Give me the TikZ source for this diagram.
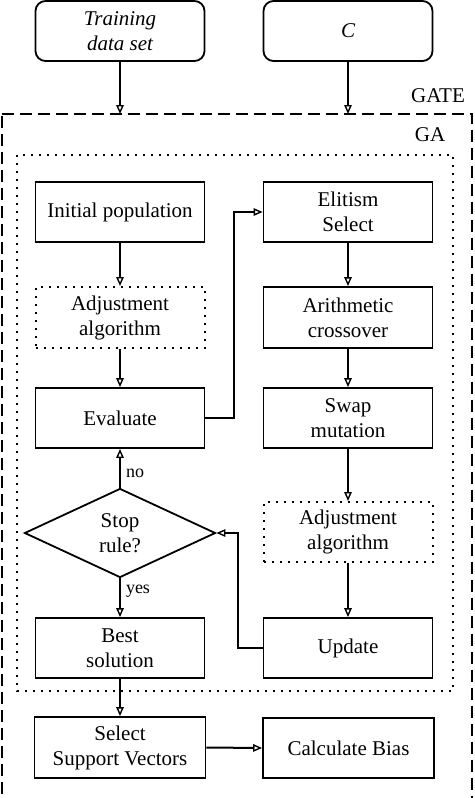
\documentclass[tikz,border=0pt]{standalone}
\usepackage{fontspec}
\setmainfont{Liberation Serif}
\usetikzlibrary{shapes.geometric,arrows.meta}
\begin{document}
\begin{tikzpicture}[x=1pt,y=1pt,
  every node/.style={font=\fontsize{21}{25}\selectfont, align=center, inner sep=0pt},
  blk/.style={draw, line width=1.8pt, minimum width=169pt, minimum height=60pt},
  dotblk/.style={blk, line width=2pt, dash pattern=on 2pt off 6pt},
  rblk/.style={blk, rounded corners=10pt, font=\fontsize{21}{25}\selectfont\itshape},
  arr/.style={draw, line width=2pt, -{Triangle[open,length=9pt,width=7.5pt,line width=1.4pt]}},
  lbl/.style={font=\fontsize{18}{20}\selectfont}
]
\useasboundingbox (0,0) rectangle (474,-798);
\clip (0,0) rectangle (474,-798);
% outer frames
\draw[line width=2pt, dash pattern=on 12pt off 6pt] (1.5,-114) -- (472,-114) -- (472,-830) ;
\draw[line width=2pt, dash pattern=on 12pt off 6pt] (1.5,-830) -- (1.5,-114);
\draw[line width=2pt, dash pattern=on 2pt off 6pt] (17,-155) rectangle (453,-691);
\node (gate) at (438,-96) {GATE};
\node (ga) at (430,-135) {GA};
% top inputs
\node[rblk] (train) at (120,-31) {Training\\data set};
\node[rblk] (cc) at (348,-31) {C};
\coordinate (in1) at (120,-114);
\coordinate (in2) at (348,-114);
% left column
\node[blk] (init) at (120,-212) {Initial population};
\node[dotblk, minimum height=61pt] (adj1) at (120,-317.5) {Adjustment\\algorithm};
\node[blk] (eval) at (120,-418) {Evaluate};
\node[draw, diamond, line width=1.8pt, aspect=2.15, minimum width=191pt, minimum height=89pt] (stop) at (120,-533) {Stop\\rule?};
\node[blk] (best) at (120,-648) {Best\\solution};
% right column
\node[blk] (elit) at (348,-212) {Elitism\\Select};
\node[blk, minimum height=61pt] (arith) at (348,-317.5) {Arithmetic\\crossover};
\node[blk] (swap) at (348,-418) {Swap\\mutation};
\node[dotblk] (adj2) at (348,-532) {Adjustment\\algorithm};
\node[blk] (upd) at (348,-648) {Update};
% bottom
\node[blk, minimum width=171pt, minimum height=61pt] (ssv) at (120,-747.5) {Select\\Support Vectors};
\node[blk, minimum width=171pt] (bias) at (348.5,-748) {Calculate Bias};
% connectors
\draw[arr] (train.south) -- (in1);
\draw[arr] (cc.south) -- (in2);
\draw[arr] (init) -- (adj1);
\draw[arr] (adj1) -- (eval);
\draw[arr] (stop.north) -- node[lbl, right=5pt, pos=0.36] (no) {no} (eval.south);
\draw[arr] (stop.south) -- node[lbl, right=5pt, pos=0.33] (yes) {yes} (best.north);
\draw[arr] (best.south) -- (ssv.north);
\draw[arr] (ssv.east) -- (bias.west);
\draw[arr] (eval.east) -- ++(29,0) |- (elit.west);
\draw[arr] (elit) -- (arith);
\draw[arr] (arith) -- (swap);
\draw[arr] (swap) -- (adj2);
\draw[arr] (adj2) -- (upd);
\draw[arr] (upd.west) -- ++(-25,0) |- (stop.east);
\end{tikzpicture}
\end{document}
